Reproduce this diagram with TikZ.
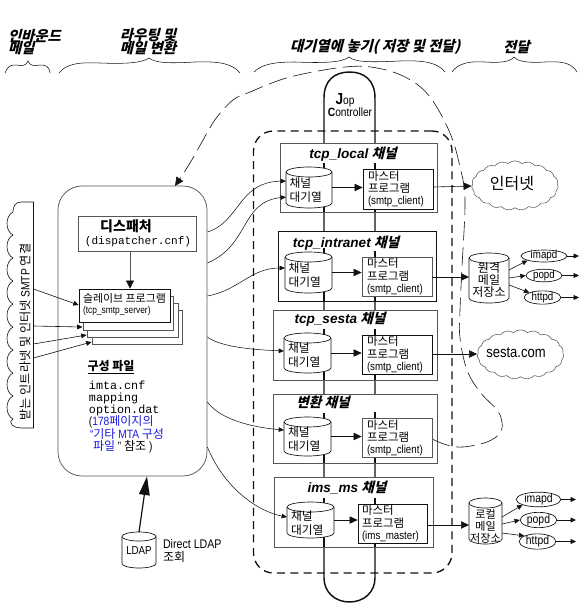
\documentclass[tikz,border=0pt]{standalone}
\usepackage{fontspec}
\usetikzlibrary{arrows.meta,shapes.geometric,shapes.symbols,fit}
\setmainfont{Liberation Sans}[FakeStretch=0.85]
\setmonofont{Liberation Mono}
\newfontfamily\krf{Noto Sans CJK KR}
\newfontfamily\krhead{Noto Sans CJK KR}[FakeSlant=0.25,BoldFeatures={FakeSlant=0.25}]
\newfontfamily\titlefont{Liberation Sans}[Scale=1]
\newcommand\kr[1]{{\krf #1}}
\newcommand\krh[1]{{\krhead\bfseries #1}}
\newcommand\ttl[1]{{\titlefont\bfseries\itshape #1}}
\definecolor{blk}{HTML}{111111}
\definecolor{ln}{HTML}{555555}
\definecolor{linkblue}{HTML}{1A1AE0}
\normallineskiplimit=-30pt
\lineskiplimit=-30pt
\tikzset{
  boxline/.style={draw=ln,line width=0.6pt,fill=white,inner sep=0pt},
  blackbox/.style={draw=blk,line width=0.6pt,fill=white,inner sep=0pt},
  stackbox/.style={draw=ln,line width=0.7pt,fill=white,inner sep=0pt},
  cylline/.style={draw=blk,line width=0.5pt,fill=white},
  puffy/.style={cloud,draw=ln,line width=0.4pt,cloud puffs=19,cloud puff arc=85,inner sep=0pt,fill=white},
  svc/.style={ellipse,draw=blk,line width=0.5pt,fill=white,inner sep=0pt},
  txt/.style={inner sep=0pt,outer sep=0pt,text=black},
  head/.style={txt,font=\fontsize{10.8}{9.4}\selectfont,align=left},
  ctitle/.style={txt,font=\fontsize{10.2}{11}\selectfont},
  cyltxt/.style={txt,font=\fontsize{8.8}{10}\selectfont,align=left},
  mtxt/.style={txt,font=\fontsize{8.6}{9.3}\selectfont,align=left},
  conn/.style={draw=blk,line width=0.45pt,-{Triangle[length=6pt,width=5.5pt]}},
  smallconn/.style={draw=blk,line width=0.45pt,-{Triangle[length=4pt,width=3.6pt]}},
  curveconn/.style={draw=blk,line width=0.4pt,-{Triangle[length=4pt,width=3.4pt]}},
  brc/.style={draw=blk,line width=0.4pt},
  jc/.style={draw=blk,line width=1.1pt},
  jcr/.style={draw=blk,line width=0.9pt},
  mono/.style={txt,font=\ttfamily\fontsize{8.8}{9}\selectfont,align=left},
  cfgtxt/.style={txt,anchor=west,font=\fontsize{9}{10}\selectfont}
}
\newcommand\cylnode[6]{%
  \pgfmathsetmacro\cxm{(#2+#4)/2}%
  \pgfmathsetmacro\cdx{0.55*(#4-#2)/2}%
  \node[inner sep=0pt,outer sep=0pt,fit={(#2,#3) (#4,#5)}] (#1) {};
  \draw[cylline] (#2,#3+#6) -- (#2,#5-#6) .. controls (#2,#5-0.45*#6) and (\cxm-\cdx,#5) .. (\cxm,#5)
     .. controls (\cxm+\cdx,#5) and (#4,#5-0.45*#6) .. (#4,#5-#6) -- (#4,#3+#6)
     .. controls (#4,#3+0.45*#6) and (\cxm+\cdx,#3) .. (\cxm,#3)
     .. controls (\cxm-\cdx,#3) and (#2,#3+0.45*#6) .. (#2,#3+#6) -- cycle;
  \draw[cylline,fill=none] (#2,#3+#6) .. controls (#2,#3+1.55*#6) and (\cxm-\cdx,#3+2*#6) .. (\cxm,#3+2*#6)
     .. controls (\cxm+\cdx,#3+2*#6) and (#4,#3+1.55*#6) .. (#4,#3+#6);
}
\begin{document}
\begin{tikzpicture}[x=0.75pt,y=-0.75pt]
\useasboundingbox (0,0) rectangle (584,615);
% headers
\node[head,anchor=west] (h1) at (8,42) {\krh{인바운드}\\\krh{메일}};
\node[head,anchor=center,align=center] (h2) at (148,41.5) {\krh{라우팅 및}\\\krh{메일 변환}};
\node[head,anchor=west] (h3) at (290,47) {\krh{대기열에 놓기( 저장 및 전달)}};
\node[head,anchor=west] (h4) at (503,47) {\krh{전달}};
% braces
\draw[brc] (5,73) .. controls (8,66) and (10,65) .. (16,65) .. controls (23,66) and (26,66) .. (28,61) .. controls (30,66) and (34,66) .. (40,65) .. controls (46,65) and (49,66) .. (50,73);
\draw[brc] (59,73) .. controls (66,64) and (78,62) .. (100,63) .. controls (125,64) and (142,63) .. (149,58) .. controls (156,64) and (175,63) .. (195,62) .. controls (220,61) and (233,64) .. (240,73);
\draw[brc] (254,72) .. controls (262,64) and (275,62) .. (295,62) .. controls (320,63) and (342,63) .. (349,57) .. controls (356,63) and (375,62) .. (400,61) .. controls (425,60) and (438,63) .. (445,72);
\draw[brc] (452,72) .. controls (458,63) and (470,61) .. (485,62) .. controls (500,63) and (510,62) .. (514,57) .. controls (518,62) and (530,63) .. (545,62) .. controls (562,61) and (572,63) .. (577,72);
% outer dashed queue region
\node[draw=blk,line width=1pt,dash pattern=on 6pt off 4pt,rounded corners=15pt,inner sep=0pt,fit={(253.5,131) (452,573)}] (region) {};
% job controller loop
\draw[jc] (324,578) -- (324,98) .. controls (324,80) and (335,72) .. (349.5,72) .. controls (364,72) and (375,80) .. (375,98) -- (375,578) .. controls (375,592) and (364,602) .. (349.5,602) .. controls (335,602) and (324,592) .. (324,578);
\node[txt,font=\fontsize{9}{10}\selectfont] (jop) at (345,100) {\textbf{\large J}op};
\node[txt,font=\fontsize{9}{10}\selectfont] (jctl) at (350,112) {\textbf{C}ontroller};
% channels
\node[boxline,fit={(280,143) (437,212)}] (ch1) {};
\node[blackbox,fit={(278,231) (436.5,301)}] (ch2) {};
\node[boxline,fit={(273,310) (437,380)}] (ch3) {};
\node[boxline,fit={(273,394) (437,463)}] (ch4) {};
\node[boxline,fit={(274,477) (433,547)}] (ch5) {};
% long dashed feedback curve
\coordinate (fbstart) at (432,439);
\coordinate (fbend) at (175,186);
\draw[draw=blk,line width=0.45pt,dash pattern=on 14pt off 5pt,-{Triangle[length=6.5pt,width=6pt]}] plot[smooth,tension=0.6] coordinates {(fbstart) (447,445) (463,447) (487,442) (500,433) (502,422) (497,410) (480,392) (467,370) (460,338) (460,310) (462,267) (465,200) (460,167) (450,133) (430,97) (407,78) (377,68) (345,67) (290,77) (250,92) (233,100) (217,117) (207,133) (190,163) (fbend)};
% main box
\node[draw=ln,line width=0.55pt,fill=white,rounded corners=18pt,inner sep=0pt,fit={(58,186) (207,476)}] (mainbox) {};
\foreach \qt/\qb/\mt/\mb/\cb in {167/208/169/209/212,252/293/257/296/301,333/373/335/374/380,417/456/418/457/463,502/538/504/543/547}{
  \draw[jc] (324,\qt-4) -- (324,\qt+6);
  \draw[jcr] (375,\mt-6) -- (375,\mt);
  \draw[jc] (324,\qb-6) -- (324,\cb);
  \draw[jcr] (375,\mb) -- (375,\cb);
}
\node[ctitle] (t1) at (353,154) {\ttl{tcp\_local} \krh{채널}};
\node[ctitle] (t2) at (346,243) {\ttl{tcp\_intranet} \krh{채널}};
\node[ctitle] (t3) at (340,319) {\ttl{tcp\_sesta} \krh{채널}};
\node[ctitle] (t4) at (323,402) {\krh{변환 채널}};
\node[ctitle] (t5) at (347,488) {\ttl{ims\_ms} \krh{채널}};
% queues
\cylnode{q1}{286}{167}{332}{208}{5}
\cylnode{q2}{285}{252}{332}{293}{5}
\cylnode{q3}{284}{333}{331}{373}{5}
\cylnode{q4}{284}{417}{331}{456}{5}
\cylnode{q5}{287}{502}{334}{538}{5}
\node[cyltxt,anchor=west] (q1t) at (289.5,190) {\kr{채널}\\\kr{대기열}};
\node[cyltxt,anchor=west] (q2t) at (288.5,275) {\kr{채널}\\\kr{대기열}};
\node[cyltxt,anchor=west] (q3t) at (288,355) {\kr{채널}\\\kr{대기열}};
\node[cyltxt,anchor=west] (q4t) at (288,439) {\kr{채널}\\\kr{대기열}};
\node[cyltxt,anchor=west] (q5t) at (291,523) {\kr{채널}\\\kr{대기열}};
% masters
\node[blackbox,fit={(363,169) (433,209)}] (m1) {};
\node[boxline,fit={(362,257) (432,296)}] (m2) {};
\node[blackbox,fit={(362,335) (432,374)}] (m3) {};
\node[boxline,fit={(362,418) (432,457)}] (m4) {};
\node[blackbox,fit={(358,504) (427,543)}] (m5) {};
\node[mtxt,anchor=west] (m1t) at (368,189) {\kr{마스터}\\\kr{프로그램}\\(smtp\_client)};
\node[mtxt,anchor=west] (m2t) at (367,276.5) {\kr{마스터}\\\kr{프로그램}\\(smtp\_client)};
\node[mtxt,anchor=west] (m3t) at (367,354.5) {\kr{마스터}\\\kr{프로그램}\\(smtp\_client)};
\node[mtxt,anchor=west] (m4t) at (367,438) {\kr{마스터}\\\kr{프로그램}\\(smtp\_client)};
\node[mtxt,anchor=west] (m5t) at (362,523.5) {\kr{마스터}\\\kr{프로그램}\\(ims\_master)};
\foreach \q/\m in {q1/m1,q2/m2,q3/m3,q4/m4,q5/m5}{\draw[conn] (\q.east) -- (\m.west |- \q.east);}
% dispatcher and slave stack
\node[stackbox,fit={(92,310) (182,344)}] (s4) {};
\node[stackbox,fit={(87,303) (178,337)}] (s3) {};
\node[stackbox,fit={(83,296) (173,330)}] (s2) {};
\node[blackbox,fit={(79,289) (170,322)}] (s1) {};
\node[txt,anchor=west,font=\fontsize{8.2}{9}\selectfont] (s1a) at (83,298) {\kr{슬레이브 프로그램}};
\node[txt,anchor=west,font=\fontsize{7.4}{8}\selectfont] (s1b) at (83,311) {(tcp\_smtp\_server)};
\node[boxline,line width=0.7pt,fit={(78.5,216) (196,251)}] (disp) {};
\node[txt,font=\fontsize{10.5}{11}\selectfont] (d1) at (126,226) {{\krf\bfseries 디스패처}};
\node[txt,font=\ttfamily\fontsize{8.3}{9}\selectfont] (d2) at (138,242) {(dispatcher.cnf)};
\draw[draw=ln,line width=0.5pt,-{Triangle[length=6pt,width=6pt,color=blk]}] (disp.south -| 130,0) -- (s1.north -| 130,0);
% config text
\node[txt,font=\fontsize{9}{10}\selectfont] (cf) at (111,367) {\underline{{\krf\bfseries 구성 파일}}};
\node[mono,anchor=north west] (cf2) at (89,381) {imta.cnf\\mapping\\option.dat};
\node[cfgtxt] (cf3) at (89,421.5) {(\textcolor{linkblue}{178\kr{페이지의}}};
\node[cfgtxt] (cf4) at (90,434) {\textcolor{linkblue}{“\kr{기타} MTA \kr{구성}}};
\node[cfgtxt] (cf5) at (93,447) {\textcolor{linkblue}{\kr{파일}} ” \kr{참조} )};
% LDAP
\cylnode{ldap}{122}{532}{156}{568}{4.5}
\node[txt,font=\fontsize{8.6}{9}\selectfont] (ldapt) at (139,550.5) {LDAP};
\node[txt,anchor=west,font=\fontsize{9.4}{10}\selectfont] (ldapn) at (163,544) {Direct LDAP};
\node[txt,anchor=west,font=\fontsize{9}{10}\selectfont] (ldapk) at (163,557) {\kr{조회}};
\draw[draw=blk,line width=0.9pt,-{Triangle[length=14pt,width=8pt]}] (ldap.north) -- (mainbox.south -| 147,0);
% inbound scalloped banner
\draw[draw=blk,line width=0.45pt,fill=white] (33.5,428) -- (33.5,202) -- (21,202) .. controls (15,202) and (13,207) .. (13,212)
  \foreach \k in {0,...,8}{ .. controls (5,{212+23*\k+4}) and (5,{212+23*\k+19}) .. (13,{212+23*(\k+1)}) }
  .. controls (7,423) and (14,428) .. (21,428) -- cycle;
\coordinate (inb) at (33.5,315);
\node[txt,rotate=90,font=\fontsize{9.1}{10}\selectfont] (inbt) at (25,332) {\kr{받는 인트라넷 및 인터넷} SMTP \kr{연결}};
\draw[smallconn] (inb |- 0,289) -- (s1.west |- 0,305);
\draw[smallconn] (inb |- 0,326) -- (s2.west |- 0,327);
\draw[smallconn] (inb |- 0,344) -- (s3.west |- 0,335);
\draw[smallconn] (inb |- 0,358) -- (s4.west |- 0,342);
% curved connectors to the queues
\draw[curveconn] (mainbox.east |- 0,232) .. controls (240,222) and (238,182) .. (q1.west |- 0,181);
\draw[curveconn] (mainbox.east |- 0,263) .. controls (250,245) and (240,202) .. (q1.west |- 0,197);
\draw[curveconn] (mainbox.east |- 0,296) .. controls (240,290) and (250,268) .. (q2.west |- 0,268);
\draw[curveconn] (mainbox.east |- 0,337) .. controls (222,348) and (260,350) .. (q3.west |- 0,351);
\draw[curveconn] (mainbox.east |- 0,402) .. controls (222,422) and (260,428) .. (q4.west |- 0,430);
\draw[curveconn] (mainbox.east |- 0,447) .. controls (225,490) and (260,512) .. (q5.west |- 0,517);
% clouds
\node[puffy,minimum width=65pt,minimum height=37pt,aspect=2.2] (inet) at (515,185.5) {};
\node[txt,font=\fontsize{12}{13}\selectfont] (inett) at (512,184) {\kr{인터넷}};
\node[puffy,minimum width=65pt,minimum height=37pt,aspect=2.2] (sesta) at (520.5,354.5) {};
\node[txt,font=\fontsize{11.5}{12}\selectfont] (sestat) at (516,353) {sesta.com};
\draw[conn] (m1.east |- 0,187) -- (inet.west |- 0,186);
\draw[conn] (m3.east |- 0,354) -- (sesta.west |- 0,354);
% remote store
\cylnode{rs}{469}{253}{509}{303}{5}
\node[cyltxt,align=center,font=\fontsize{9}{9.2}\selectfont] (rst) at (489,280) {\kr{원격}\\\kr{메일}\\\kr{저장소}};
\draw[conn] (m2.east |- 0,277) -- (rs.west |- 0,277);
\node[svc,minimum width=34.5pt,minimum height=9pt] (r1) at (544,256) {};
\node[svc,minimum width=27pt,minimum height=9.5pt] (r2) at (544,275.5) {};
\node[svc,minimum width=27.5pt,minimum height=10pt] (r3) at (542.5,297.5) {};
\node[txt,font=\fontsize{8.6}{9}\selectfont] (r1t) at (544,256) {imapd};
\node[txt,font=\fontsize{8.6}{9}\selectfont] (r2t) at (544,275.5) {popd};
\node[txt,font=\fontsize{8.6}{9}\selectfont] (r3t) at (542.5,297.5) {httpd};
\draw[smallconn] (rs.east |- 0,270) -- (r1.south west);
\draw[smallconn] (rs.east |- 0,278) -- (r2.west);
\draw[smallconn] (rs.east |- 0,285) -- (r3.north west);
\coordinate (rx) at (579,0);
\draw[smallconn] (r1.east) -- (rx |- r1.east);
\draw[smallconn] (r2.east) -- (rx |- r2.east);
\draw[smallconn] (r3.east) -- (rx |- r3.east);
% local store
\cylnode{ls}{469}{498}{502}{544}{5}
\node[cyltxt,align=center,font=\fontsize{8.3}{9}\selectfont] (lst) at (485.5,526) {\kr{로컬}\\\kr{메일}\\\kr{저장소}};
\draw[conn] (m5.east |- 0,525) -- (ls.west |- 0,525);
\node[svc,minimum width=33.5pt,minimum height=11pt] (l1) at (538.5,499.5) {};
\node[svc,minimum width=27.5pt,minimum height=11.5pt] (l2) at (538.5,520) {};
\node[svc,minimum width=27.5pt,minimum height=11.5pt] (l3) at (537.5,541.5) {};
\node[txt,font=\fontsize{9.2}{10}\selectfont] (l1t) at (538.5,499.5) {imapd};
\node[txt,font=\fontsize{9.2}{10}\selectfont] (l2t) at (538.5,520) {popd};
\node[txt,font=\fontsize{9.2}{10}\selectfont] (l3t) at (537.5,541.5) {httpd};
\draw[smallconn] (ls.east |- 0,517) -- (l1.south west);
\draw[smallconn] (ls.east |- 0,524) -- (l2.west);
\draw[smallconn] (ls.east |- 0,533) -- (l3.north west);
\coordinate (lx) at (576,0);
\draw[smallconn] (l1.east) -- (lx |- l1.east);
\draw[smallconn] (l2.east) -- (lx |- l2.east);
\draw[smallconn] (l3.east) -- (lx |- l3.east);
\end{tikzpicture}
\end{document}
